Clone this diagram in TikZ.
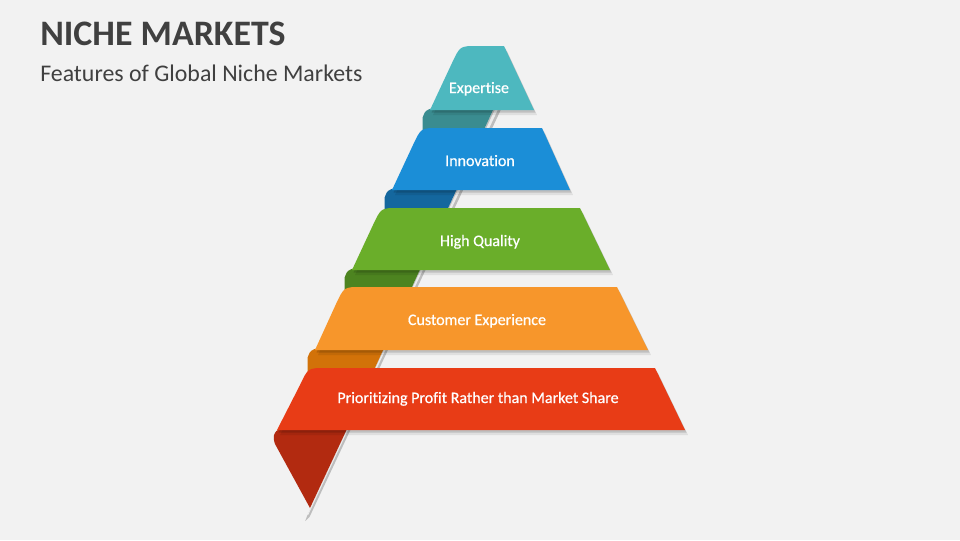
\documentclass[tikz,border=0pt]{standalone}
\usepackage{fontspec}
\setmainfont{Carlito}[Ligatures=NoCommon]
\newfontfamily\bandfont[FakeBold=0.6,Ligatures=NoCommon]{Carlito}
\definecolor{bg}{HTML}{F2F2F2}
\definecolor{titlegray}{HTML}{404040}
\definecolor{tealc}{HTML}{4DB8BF}
\definecolor{tealf}{HTML}{3A8C90}
\definecolor{bluec}{HTML}{1B8ED7}
\definecolor{bluef}{HTML}{14679E}
\definecolor{greenc}{HTML}{6AAE2A}
\definecolor{greenf}{HTML}{4D8420}
\definecolor{orangec}{HTML}{F7962B}
\definecolor{orangef}{HTML}{D27209}
\definecolor{redc}{HTML}{E83C16}
\definecolor{redf}{HTML}{B22A10}
\definecolor{stripg}{HTML}{BDBDBD}
\newcommand\bandpath[6]{(#6,#2) -- ({#3-8},{#1+17}) .. controls (#3,#1) .. ({#3+17},#1) -- (#4,#1) -- (#5,#2) -- cycle}
\newcommand\foldpart[4]{%
  \fill[#4] ({#2+6},{#1-2}) .. controls ({#2-6},{#1-2}) and ({#2-8},{#1+6}) .. ({#2-7.5},{#1+12})
    -- ({#2-7.5},{#3+4}) -- ({543.4-0.458*(#3+4)},{#3+4}) -- ({543.4-0.458*(#1-2)},{#1-2}) -- cycle;}
\newcommand\bandshape[7]{%
  \fill[black,opacity=0.08,shift={(3,5)}] \bandpath{#1}{#2}{#3}{#4}{#5}{#6};
  \fill[black,opacity=0.14,shift={(1.5,2.5)}] \bandpath{#1}{#2}{#3}{#4}{#5}{#6};
  \fill[#7] \bandpath{#1}{#2}{#3}{#4}{#5}{#6};}
\tikzset{bandtext/.style={anchor=base,text=white,font=\bandfont\fontsize{12}{14}\selectfont}}
\begin{document}
\begin{tikzpicture}[x=0.75pt,y=-0.75pt]
\fill[bg] (0,0) rectangle (960,540);
\useasboundingbox (0,0) rectangle (960,540);
% title
\node[anchor=base west,inner sep=0,text=titlegray,font=\fontsize{26.9}{30}\selectfont\bfseries] (title) at (40,45) {NICHE MARKETS};
\node[anchor=base west,inner sep=0,text=titlegray,font=\fontsize{17.9}{22}\selectfont] (subtitle) at (40,81) {Features of Global Niche Markets};
% central strip
\fill[stripg] (495.8,104) -- (503.5,104) -- (309.5,517) -- (305.2,521) -- (307.1,516) -- cycle;
\fill[white,opacity=0.7] (497.5,104) -- (500.5,104) -- (308.2,515) -- (307.4,515) -- cycle;
% folds
\foldpart{110}{430}{128}{tealf}
\foldpart{190}{392}{208}{bluef}
\foldpart{270}{352}{287}{greenf}
\foldpart{350}{315}{368}{orangef}
\fill[redf] (286,428) .. controls (274,428) and (272,436) .. (275,444) -- (310,508) -- (347.4,428) -- cycle;
% bands
\bandshape{46}{110}{460}{504}{534}{430}{tealc}
\bandshape{128}{190}{421}{542}{570}{392}{bluec}
\bandshape{208}{270}{381}{580}{610}{352}{greenc}
\bandshape{287}{350}{344}{617}{648}{315}{orangec}
\bandshape{368}{430}{308}{655}{685}{277}{redc}
% labels
\node[bandtext] (t1) at (479,93) {Expertise};
\node[bandtext] (t2) at (480,166) {Innovation};
\node[bandtext] (t3) at (480,246) {High Quality};
\node[bandtext] (t4) at (477,325) {Customer Experience};
\node[bandtext] (t5) at (478,403) {Prioritizing Profit Rather than Market Share};
\end{tikzpicture}
\end{document}
